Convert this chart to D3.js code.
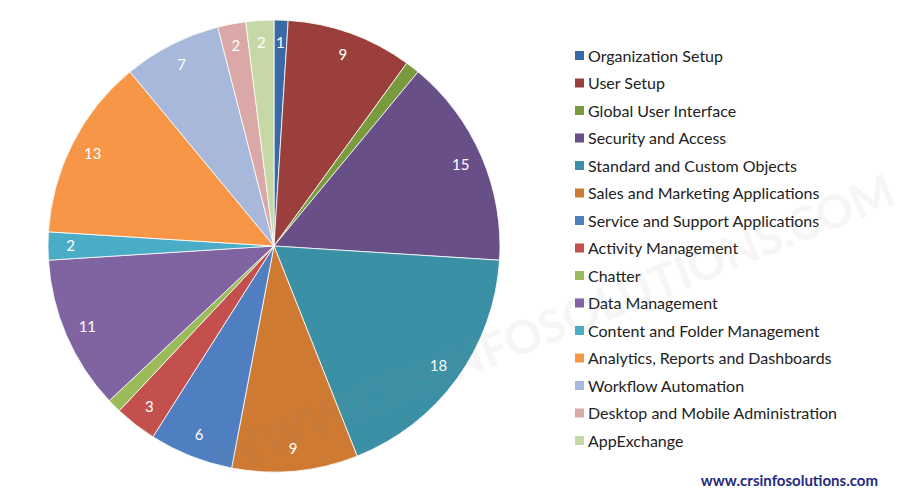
<!DOCTYPE html>
<html><head><meta charset="utf-8">
<script src="https://cdn.jsdelivr.net/npm/d3@7"></script>
<style>body{margin:0;background:#fff}</style>
</head><body><div id="chart"></div>
<script>
let categories = ["Organization Setup","User Setup","Global User Interface","Security and Access",
  "Standard and Custom Objects","Sales and Marketing Applications","Service and Support Applications",
  "Activity Management","Chatter","Data Management","Content and Folder Management",
  "Analytics, Reports and Dashboards","Workflow Automation","Desktop and Mobile Administration","AppExchange"];
let values = [1,9,1,15,18,9,6,3,1,11,2,13,7,2,2];
// the reference leaves the labels of two thin slices out
let labelShown = [true,true,false,true,true,true,true,true,false,true,true,true,true,true,true];
let colors = ["#3A6AA6","#9A3F3C","#7A9A3E","#694F88","#3C90A6","#CF7A33","#4F7FC0","#C4504D",
  "#9BBB59","#8064A2","#4BACC6","#F79646","#A8B8DA","#DAA8A7","#C6D8A6"];

const width = 900, height = 500, cx = 274, cy = 246, r = 226;
const svg = d3.select("#chart").append("svg").attr("width", width).attr("height", height)
  .style("font-family", "Lato, 'Open Sans', sans-serif");

const data = categories.map((c, i) => ({name: c, value: values[i], color: colors[i], show: labelShown[i]}));
const pie = d3.pie().value(d => d.value).sort(null);
const arc = d3.arc().innerRadius(0).outerRadius(r);
const labelArc = d3.arc().innerRadius(r * 0.9).outerRadius(r * 0.9);

const g = svg.append("g").attr("transform", `translate(${cx},${cy})`);
const arcs = pie(data);
g.selectAll("path").data(arcs).join("path")
  .attr("d", arc).attr("fill", d => d.data.color)
  .attr("stroke", "#fff").attr("stroke-width", 0.8);
g.selectAll("text").data(arcs.filter(d => d.data.show)).join("text")
  .attr("transform", d => `translate(${labelArc.centroid(d)})`)
  .attr("text-anchor", "middle").attr("dy", "0.35em")
  .attr("font-size", 15).attr("fill", "#fff").text(d => d.data.value);

const legend = svg.append("g").attr("transform", "translate(575,56)");
const item = legend.selectAll("g").data(data).join("g")
  .attr("transform", (d, i) => `translate(0,${i * 27.5})`);
item.append("rect").attr("x", 0).attr("y", -5).attr("width", 9).attr("height", 9).attr("fill", d => d.color);
item.append("text").attr("x", 13).attr("dy", "0.35em").attr("font-size", 16).attr("fill", "#222")
  .text(d => d.name);

svg.append("text").attr("x", 878).attr("y", 486).attr("text-anchor", "end")
  .attr("font-size", 15).attr("font-weight", "bold").attr("fill", "#1f2a80")
  .text("www.crsinfosolutions.com");

// faint watermark laid over everything
svg.append("text").attr("transform", "translate(560,340) rotate(-22)")
  .attr("text-anchor", "middle").attr("font-size", 46).attr("font-weight", "bold")
  .attr("fill", "#888").attr("opacity", 0.07).text("WWW.CRSINFOSOLUTIONS.COM");
</script></body></html>
